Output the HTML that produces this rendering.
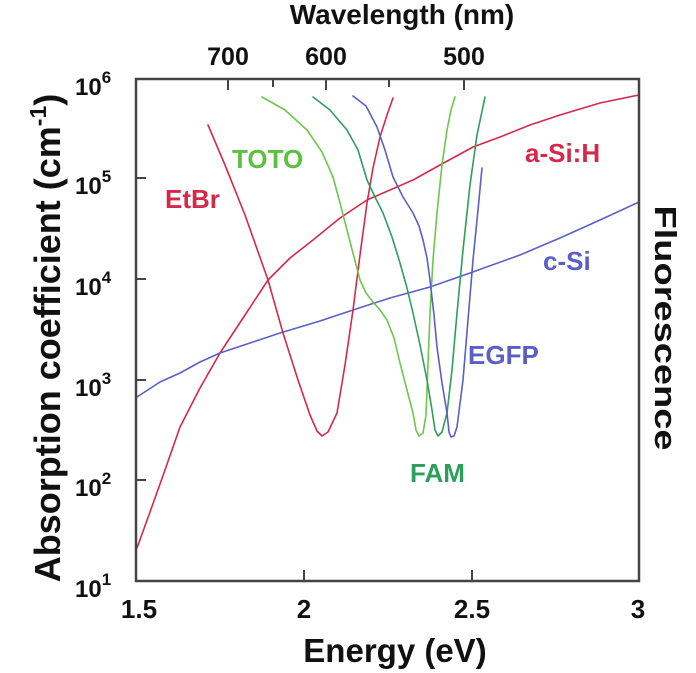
<!DOCTYPE html>
<html><head><style>body{margin:0;background:#fff}svg{display:block}text{font-family:"Liberation Sans",Arial,sans-serif;font-weight:bold}</style></head><body>
<svg width="696" height="673" viewBox="0 0 696 673" xmlns="http://www.w3.org/2000/svg">
<rect width="696" height="673" fill="#fff"/>
<g fill="none" stroke-width="1.6" stroke-linejoin="round" stroke-linecap="round">
<polyline stroke="#d42a4a" points="137,548 150,512 165,470 180,427 200,388 220,353 245,315 268,280 290,258 313,240 340,218 367,200 390,190 413,180 440,165 473,147 500,137 530,125 560,115 600,103 639,95"/>
<polyline stroke="#5a5fc8" points="137,397 160,382 180,373 200,362 220,353 250,343 280,333 320,321 353,310 390,298 430,287 470,273 520,255 560,238 600,220 639,202"/>
<polyline stroke="#d42a4a" points="208,125 225,165 245,215 268,280 283,333 298,380 310,415 317,431 322,436 328,432 337,413 345,365 353,310 360,255 367,203 373,168 380,137 387,115 393,98"/>
<polyline stroke="#6cc84a" points="262,97 285,110 307,130 322,152 333,177 340,203 347,230 354,257 360,280 366,293 373,302 380,310 387,320 394,338 400,363 407,390 413,413 416,430 419,436 423,433 426,415 430,313 433,260 437,213 442,165 447,130 451,110 455,97"/>
<polyline stroke="#2ca05a" points="313,97 330,110 347,130 358,150 367,180 375,197 383,213 392,237 400,263 407,288 413,313 420,345 427,380 432,410 435,430 438,436 442,432 447,413 452,370 457,313 463,250 470,185 477,135 485,97"/>
<polyline stroke="#5a5fc8" points="353,96 366,106 377,127 385,150 393,177 403,197 413,213 419,226 423,240 427,258 430,280 434,315 437,347 442,383 447,413 449,432 451,437 454,436 457,427 463,380 468,320 473,260 478,210 482,168"/>
</g>
<rect x="136" y="79" width="503" height="502" fill="none" stroke="#444" stroke-width="2.5"/>
<g stroke="#444" stroke-width="2">
<line x1="136" y1="178" x2="146" y2="178"/><line x1="136" y1="279" x2="146" y2="279"/><line x1="136" y1="380" x2="146" y2="380"/><line x1="136" y1="480" x2="146" y2="480"/>
<line x1="304" y1="581" x2="304" y2="570"/><line x1="472" y1="581" x2="472" y2="570"/>
<line x1="228" y1="79" x2="228" y2="90"/><line x1="273" y1="79" x2="273" y2="87"/><line x1="326" y1="79" x2="326" y2="90"/><line x1="389" y1="79" x2="389" y2="87"/><line x1="464" y1="79" x2="464" y2="90"/>
</g>
<g font-size="26" fill="#111" text-anchor="middle">
<text x="139" y="618">1.5</text><text x="304" y="618">2</text><text x="472" y="618">2.5</text><text x="638" y="618">3</text>
</g>
<g font-size="25" fill="#111" text-anchor="middle">
<text x="228" y="65">700</text><text x="326" y="65">600</text><text x="464" y="65">500</text>
</g>
<g font-size="24" fill="#111">
<text x="75" y="95">10<tspan font-size="17" dy="-12">6</tspan></text>
<text x="75" y="194">10<tspan font-size="17" dy="-12">5</tspan></text>
<text x="75" y="295">10<tspan font-size="17" dy="-12">4</tspan></text>
<text x="75" y="396">10<tspan font-size="17" dy="-12">3</tspan></text>
<text x="75" y="496">10<tspan font-size="17" dy="-12">2</tspan></text>
<text x="75" y="597">10<tspan font-size="17" dy="-12">1</tspan></text>
</g>
<text x="402" y="24" font-size="28" fill="#111" text-anchor="middle">Wavelength (nm)</text>
<text x="395" y="662" font-size="33" fill="#111" text-anchor="middle">Energy (eV)</text>
<text transform="translate(60,338) rotate(-90)" font-size="36" fill="#111" text-anchor="middle">Absorption coefficient (cm<tspan font-size="23" dy="-14">-1</tspan><tspan dy="14">)</tspan></text>
<text transform="translate(655,328) rotate(90)" font-size="31" fill="#111" text-anchor="middle" textLength="245" lengthAdjust="spacingAndGlyphs">Fluorescence</text>
<g font-size="26">
<text x="165" y="208" fill="#d42a4a">EtBr</text>
<text x="232" y="168" fill="#5cc040">TOTO</text>
<text x="525" y="162" fill="#d42a4a">a-Si:H</text>
<text x="543" y="270" fill="#5a5fc8">c-Si</text>
<text x="468" y="364" fill="#5a5fc8">EGFP</text>
<text x="410" y="482" fill="#2ca05a">FAM</text>
</g>
</svg>
</body></html>
